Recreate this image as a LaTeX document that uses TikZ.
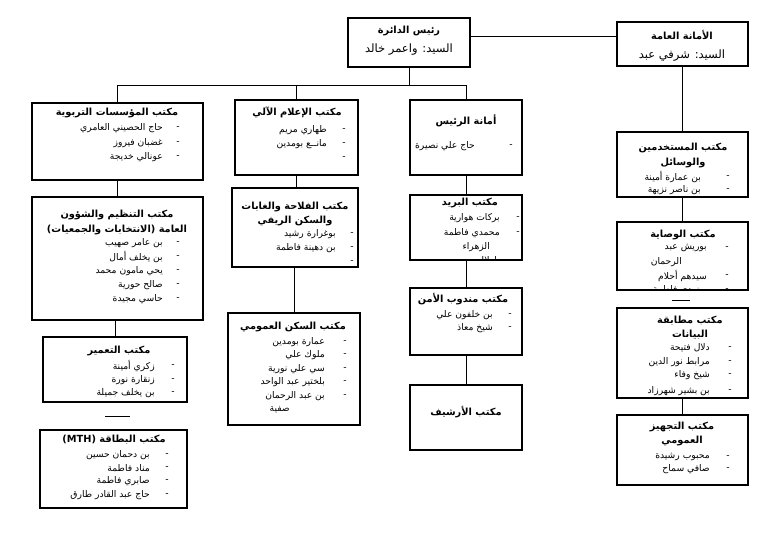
\documentclass[tikz,border=0pt]{standalone}
\usepackage{fontspec}
\TeXXeTstate=1
\newfontfamily\ar[Script=Arabic]{DejaVu Sans}
\tikzset{
  box/.style={draw, line width=1.2pt, inner sep=0pt, fill=white},
  conn/.style={line width=1pt},
  ttlstyle/.style={font=\ar\bfseries\fontsize{9.8}{11}\selectfont, inner sep=0pt, anchor=center},
  headstyle/.style={font=\ar\fontsize{11.5}{13}\selectfont, inner sep=0pt, anchor=center},
  itmstyle/.style={font=\ar\fontsize{9.2}{10}\selectfont, inner sep=0pt, anchor=east},
  dashstyle/.style={font=\ar\fontsize{9.2}{10}\selectfont, inner sep=0pt, anchor=center}
}
\newcommand\Ttl[3]{\node[ttlstyle] at (#1,#2) {\beginR #3\endR};}
\newcommand\Itm[4]{\node[dashstyle] at (#1,#3) {-}; \node[itmstyle] at (#2,#3) {\beginR #4\endR};}
\newcommand\Cnt[3]{\node[itmstyle] at (#1,#2) {\beginR #3\endR};}
\newcommand\Bul[2]{\node[dashstyle] at (#1,#2) {-};}
\begin{document}
\begin{tikzpicture}[x=1pt,y=-1pt]
\useasboundingbox (0,0) rectangle (768,543);
% boxes
\node[box, minimum width=122pt, minimum height=49pt] (head) at (409,42.5) {};
\node[box, minimum width=131pt, minimum height=44pt] (sec) at (682.5,44) {};
\node[box, minimum width=171pt, minimum height=77pt] (b1) at (117.5,141.5) {};
\node[box, minimum width=123pt, minimum height=75pt] (b2) at (296.5,137.5) {};
\node[box, minimum width=112pt, minimum height=75pt] (b3) at (466,137.5) {};
\node[box, minimum width=131pt, minimum height=65pt] (b4) at (682.5,164.5) {};
\node[box, minimum width=171pt, minimum height=123pt] (b5) at (117.5,258.5) {};
\node[box, minimum width=126pt, minimum height=79pt] (b6) at (295,227.5) {};
\node[box, minimum width=112pt, minimum height=65pt] (b7) at (466,227.5) {};
\node[box, minimum width=131pt, minimum height=68pt] (b8) at (682.5,256) {};
\node[box, minimum width=144pt, minimum height=65pt] (b9) at (115,369.5) {};
\node[box, minimum width=132pt, minimum height=112pt] (b10) at (294,369) {};
\node[box, minimum width=112pt, minimum height=67pt] (b11) at (466,321.5) {};
\node[box, minimum width=131pt, minimum height=90pt] (b12) at (682.5,353) {};
\node[box, minimum width=147pt, minimum height=78pt] (b13) at (113.5,469) {};
\node[box, minimum width=112pt, minimum height=65pt] (b14) at (466,417.5) {};
\node[box, minimum width=131pt, minimum height=70pt] (b15) at (682.5,450) {};
% connectors
\coordinate (bus) at (409,85);
\draw[conn] ([yshift=5.5pt]head.east) -- ([yshift=5.5pt]head.east -| sec.west);
\draw[conn] (head.south) -- (bus);
\draw[conn] (b1.north) |- (b3.north |- bus) -- (b3.north);
\draw[conn] (b2.north) -- (b2.north |- bus);
\draw[conn] (sec.south) -- (sec.south |- b4.north);
\draw[conn] (b1.south) -- (b1.south |- b5.north);
\draw[conn] (b9.north |- b5.south) -- (b9.north);
\draw[conn] (b2.south) -- (b2.south |- b6.north);
\draw[conn] (b10.north |- b6.south) -- (b10.north);
\draw[conn] (b3.south) -- (b7.north);
\draw[conn] (b7.south) -- (b11.north);
\draw[conn] (b11.south) -- (b14.north);
\draw[conn] (b4.south) -- (b8.north);
\draw[conn] (b12.south) -- (b15.north);
\coordinate (d1a) at (105,416); \coordinate (d1b) at (130,416);
\draw[conn] (d1a) -- (d1b);
\coordinate (d2a) at (672,300); \coordinate (d2b) at (690,300);
\draw[conn] (d2a) -- (d2b);
% header texts
\Ttl{409}{31}{رئيس الدائرة}
\node[headstyle] at (409,50) {\beginR السيد: واعمر خالد\endR};
\Ttl{682}{35}{الأمانة العامة}
\node[headstyle] at (682,56) {\beginR السيد: شرفي عبد\endR};
% b1
\Ttl{117}{113}{مكتب المؤسسات التربوية}
\Itm{178}{163}{128}{حاج الحصيني العامري}
\Itm{178}{163}{143}{غضبان فيروز}
\Itm{178}{163}{157}{عونالي خديجة}
% b2
\Ttl{297}{112}{مكتب الإعلام الآلي}
\Itm{344}{327}{130}{طهاري مريم}
\Itm{344}{327}{144}{مانــع بومدين}
\Bul{344}{158}
% b3
\Ttl{466}{121}{أمانة الرئيس}
\Itm{511}{475}{146}{حاج علي نصيرة}
% b4
\Ttl{683}{148}{مكتب المستخدمين}
\Ttl{683}{163}{والوسائل}
\Itm{728}{701}{177}{بن عمارة أمينة}
\Itm{728}{701}{190}{بن ناصر نزيهة}
% b5
\Ttl{117}{215}{مكتب التنظيم والشؤون}
\Ttl{117}{230}{العامة (الانتخابات والجمعيات)}
\Itm{178}{163}{243}{بن عامر صهيب}
\Itm{178}{163}{257}{بن يخلف أمال}
\Itm{178}{163}{271}{يحي مامون محمد}
\Itm{178}{163}{285}{صالح حورية}
\Itm{178}{163}{299}{حاسي مجيدة}
% b6
\Ttl{295}{207}{مكتب الفلاحة والغابات}
\Ttl{295}{221}{والسكن الريفي}
\Itm{352}{336}{234}{بوغرارة رشيد}
\Itm{352}{336}{248}{بن دهينة فاطمة}
\Bul{352}{262}
% b7 (clipped)
\begin{scope}
\clip (b7.south west) rectangle (b7.north east);
\Ttl{470}{203}{مكتب البريد}
\Itm{518}{500}{218}{بركات هوارية}
\Itm{518}{500}{233}{محمدي فاطمة}
\Cnt{490}{247}{الزهراء}
\Itm{518}{500}{261}{بلعلالي}
\end{scope}
% b8 (clipped)
\begin{scope}
\clip (b8.south west) rectangle (b8.north east);
\Ttl{683}{235}{مكتب الوصاية}
\Itm{727}{707}{248}{بوريش عبد}
\Cnt{682}{262}{الرحمان}
\Itm{727}{707}{276}{سيدهم أحلام}
\Itm{727}{707}{290}{بوزيدي فاطمة}
\end{scope}
% b9
\Ttl{119}{351}{مكتب التعمير}
\Itm{173}{155}{366}{زكري أمينة}
\Itm{173}{155}{380}{زنقارة نورة}
\Itm{173}{155}{393}{بن يخلف جميلة}
% b10
\Ttl{293}{327}{مكتب السكن العمومي}
\Itm{345}{325}{342}{عمارة بومدين}
\Itm{345}{325}{355}{ملوك علي}
\Itm{345}{325}{369}{سي علي نورية}
\Itm{345}{325}{382}{بلختير عبد الواحد}
\Itm{345}{325}{396}{بن عبد الرحمان}
\Cnt{290}{410}{صفية}
% b11
\Ttl{463}{299}{مكتب مندوب الأمن}
\Itm{510}{493}{315}{بن خلفون علي}
\Itm{510}{493}{328}{شيخ معاذ}
% b12 (clipped)
\begin{scope}
\clip (b12.south west) rectangle (b12.north east);
\Ttl{690}{321}{مكتب مطابقة}
\Ttl{690}{335}{البيانات}
\Itm{730}{710}{348}{دلال فتيحة}
\Itm{730}{710}{362}{مرابط نور الدين}
\Itm{730}{710}{375}{شيخ وفاء}
\Itm{730}{710}{391}{بن بشير شهرزاد}
\end{scope}
% b13
\Ttl{114}{440}{مكتب البطاقة \beginL(MTH)\endL}
\Itm{167}{150}{455}{بن دحمان حسين}
\Itm{167}{150}{468}{مناد فاطمة}
\Itm{167}{150}{481}{صابري فاطمة}
\Itm{167}{150}{495}{حاج عبد القادر طارق}
% b14
\Ttl{466}{412}{مكتب الأرشيف}
% b15
\Ttl{682}{427}{مكتب التجهيز}
\Ttl{682}{441}{العمومي}
\Itm{728}{710}{457}{محبوب رشيدة}
\Itm{728}{710}{469}{صافي سماح}
\end{tikzpicture}
\end{document}
